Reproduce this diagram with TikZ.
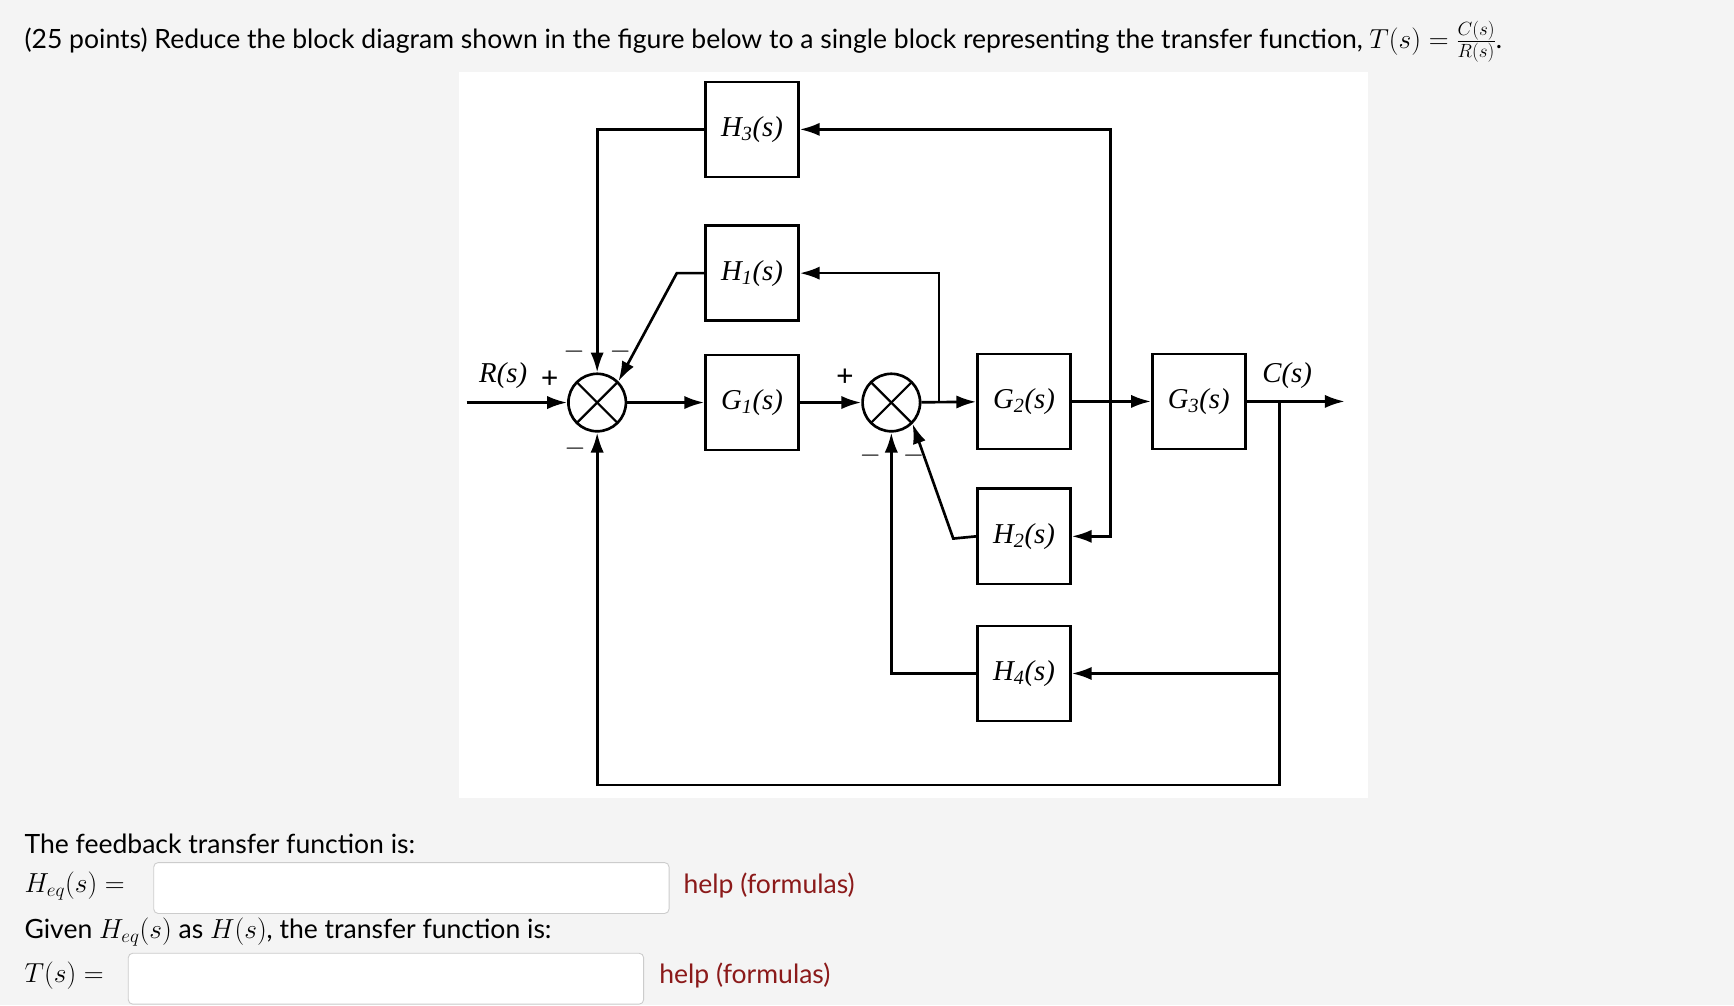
\documentclass[tikz,border=0pt]{standalone}
\usepackage{fontspec}
\setmainfont{Lato}
\newfontfamily\blk{Liberation Serif}
\usetikzlibrary{arrows.meta}
\definecolor{bg}{HTML}{F4F4F4}
\definecolor{helpred}{HTML}{8B1A1A}
\begin{document}
\begin{tikzpicture}[x=1pt,y=1pt,yscale=-1,
  blk/.style={draw,line width=2.4pt,minimum width=84pt,minimum height=86pt,inner sep=0pt,font=\blk\itshape\fontsize{26}{28}\selectfont},
  sum/.style={draw,line width=2.4pt,circle,minimum size=52pt,inner sep=0pt,path picture={
    \draw[line width=2pt] ([shift={(7.6pt,-7.6pt)}]path picture bounding box.north west) -- ([shift={(-7.6pt,7.6pt)}]path picture bounding box.south east);
    \draw[line width=2pt] ([shift={(7.6pt,7.6pt)}]path picture bounding box.south west) -- ([shift={(-7.6pt,-7.6pt)}]path picture bounding box.north east);}},
  ar/.style={line width=2.4pt,-{Latex[length=18pt,width=12pt]}},
  sg/.style={font=\blk\bfseries\fontsize{28}{30}\selectfont,inner sep=0pt},
  txt/.style={anchor=west,inner sep=0pt,font=\fontsize{24}{26}\selectfont},
  lbl/.style={font=\blk\itshape\fontsize{26}{28}\selectfont,inner sep=0pt},
  box/.style={draw=gray!40,fill=white,rounded corners=4pt,line width=0.8pt}]
\fill[bg] (0,0) rectangle (1568,909);
\useasboundingbox (0,0) rectangle (1568,909);
\fill[white] (415,65) rectangle (1237,722);
\node[txt] (title) at (22,38) {(25 points) Reduce the block diagram shown in the figure below to a single block representing the transfer function, $T(s)=\frac{C(s)}{R(s)}$.};
% blocks
\node[sum] (s1) at (540,364) {};
\node[sum] (s2) at (806,364) {};
\node[blk] (g1) at (680,364) {G\textsubscript{1}(s)};
\node[blk] (h1) at (680,247) {H\textsubscript{1}(s)};
\node[blk] (h3) at (680,117) {H\textsubscript{3}(s)};
\node[blk] (g2) at (926,363) {G\textsubscript{2}(s)};
\node[blk] (g3) at (1084,363) {G\textsubscript{3}(s)};
\node[blk] (h2) at (926,485) {H\textsubscript{2}(s)};
\node[blk] (h4) at (926,609) {H\textsubscript{4}(s)};
\coordinate (rin) at (422,364);
\coordinate (cout) at (1216,363);
\coordinate (pa) at (1004,363);
\coordinate (pb) at (849,364);
\coordinate (pc) at (1157,363);
% forward path
\draw[ar] (rin) -- (s1);
\draw[ar] (s1) -- (g1);
\draw[ar] (g1) -- (s2);
\draw[ar] (s2) -- (g2);
\draw[ar] (g2) -- (g3);
\draw[ar] (g3) -- (cout);
% feedback loops
\draw[ar] (pa) |- (h3.east);
\draw[ar] (h3.west) -| (s1.north);
\draw[ar] (pb) |- (h1.east);
\draw[ar] (h1.west) -- (612,247) -- (s1.north east);
\draw[ar] (pa) |- (h2.east);
\draw[ar] (h2.west) -- (862,487) -- (s2.south east);
\draw[ar] (pc) |- (h4.east);
\draw[ar] (h4.west) -| (s2.south);
\draw[ar] (pc) |- (540,710) -- (s1.south);
% labels
\node[lbl] (r) at (455,340) {R(s)};
\node[lbl] (c) at (1164,340) {C(s)};
\node[sg] (p1) at (497,343) {+};
\node[sg] (m1) at (519,318) {$-$};
\node[sg] (m2) at (561,318) {$-$};
\node[sg] (m3) at (520,406) {$-$};
\node[sg] (p2) at (764,342) {+};
\node[sg] (m4) at (787,412) {$-$};
\node[sg] (m5) at (826,412) {$-$};
% answer area
\node[txt] (q1) at (22,763) {The feedback transfer function is:};
\node[txt] (q2) at (22,801) {\fontsize{26}{28}\selectfont$H_{eq}(s)=$};
\draw[box] (139,780) rectangle (605,826);
\node[txt,text=helpred] (hp1) at (618,801) {help (formulas)};
\node[txt] (q3) at (22,843) {Given \fontsize{26}{28}\selectfont$H_{eq}(s)$\fontsize{24}{26}\selectfont{} as \fontsize{26}{28}\selectfont$H(s)$\fontsize{24}{26}\selectfont, the transfer function is:};
\node[txt] (q4) at (22,882) {\fontsize{26}{28}\selectfont$T(s)=$};
\draw[box] (116,862) rectangle (582,908);
\node[txt,text=helpred] (hp2) at (596,882) {help (formulas)};
\end{tikzpicture}
\end{document}
